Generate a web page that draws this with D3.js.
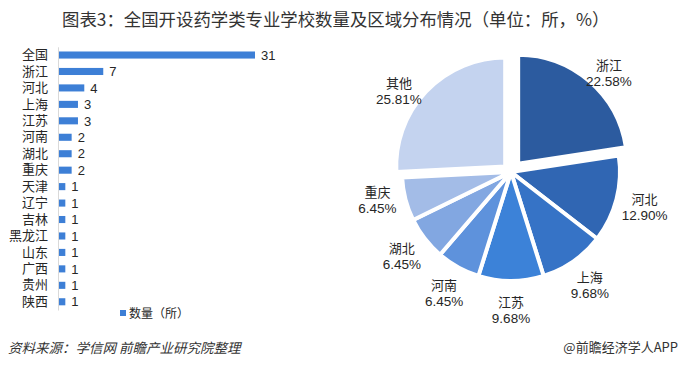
<!DOCTYPE html>
<html>
<head>
<meta charset="utf-8">
<script src="https://cdn.jsdelivr.net/npm/d3@7"></script>
<style>
  body { margin: 0; background: #fff; }
  text { font-family: "Noto Sans CJK SC", "Liberation Sans", sans-serif; }
</style>
</head>
<body>
<script>
var w = 680;
var h = 367;

// bar chart data
var provinces = ["全国", "浙江", "河北", "上海", "江苏", "河南", "湖北", "重庆",
                 "天津", "辽宁", "吉林", "黑龙江", "山东", "广西", "贵州", "陕西"];
var schoolCounts = [31, 7, 4, 3, 3, 2, 2, 2, 1, 1, 1, 1, 1, 1, 1, 1];

// pie chart data
var pieNames = ["浙江", "河北", "上海", "江苏", "河南", "湖北", "重庆", "其他"];
var pieValues = [7, 4, 3, 3, 2, 2, 2, 8];
var pieColors = ["#2c5b9f", "#3066b3", "#3673c6", "#3c82d8", "#5e92dc", "#82a7e1", "#a3bce7", "#c4d3ef"];

var barColor = "#3d7fd6";

var svg = d3.select("body")
    .append("svg")
    .attr("width", w)
    .attr("height", h);

// title
svg.append("text")
    .attr("x", 62)
    .attr("y", 26)
    .attr("font-size", "17.4px")
    .attr("fill", "#333")
    .text("图表3：全国开设药学类专业学校数量及区域分布情况（单位：所，%）");

//Bar chart scales
var xScale = d3.scaleLinear()
    .domain([0, 31])
    .range([59, 255]);

var yScale = d3.scaleBand()
    .domain(provinces)
    .range([46.8, 46.8 + 16 * 16.45])
    .paddingInner(0.57)
    .paddingOuter(0.285);

var yAxis = d3.axisLeft(yScale).tickSize(0).tickPadding(10);

var gy = svg.append("g")
    .attr("class", "y axis")
    .attr("transform", "translate(58,0)")
    .call(yAxis);
gy.select(".domain").attr("stroke", "#d9d9d9");
gy.selectAll("text")
    .attr("font-size", "13px")
    .attr("fill", "#262626")
    .style("font-family", "'Noto Sans CJK SC', sans-serif");

svg.append("g")
    .selectAll("rect")
    .data(schoolCounts)
    .enter()
    .append("rect")
    .attr("x", xScale(0))
    .attr("y", function(d, i) { return yScale(provinces[i]); })
    .attr("width", function(d) { return xScale(d) - xScale(0); })
    .attr("height", yScale.bandwidth())
    .attr("fill", barColor);

svg.append("g")
    .selectAll("text")
    .data(schoolCounts)
    .enter()
    .append("text")
    .attr("x", function(d) { return xScale(d) + 6; })
    .attr("y", function(d, i) { return yScale(provinces[i]) + yScale.bandwidth() / 2; })
    .attr("dy", "0.36em")
    .attr("font-size", "13px")
    .style("font-family", "'Liberation Sans', Arial, sans-serif")
    .attr("fill", "#262626")
    .text(function(d) { return d; });

// legend
svg.append("rect")
    .attr("x", 120).attr("y", 310)
    .attr("width", 6).attr("height", 6)
    .attr("fill", barColor);
svg.append("text")
    .attr("x", 129).attr("y", 317.5)
    .attr("font-size", "12px")
    .attr("fill", "#262626")
    .text("数量（所）");

//Pie chart
var cx = 511, cy = 172, radius = 109, labelR = 138;
var explode = { "浙江": 11, "其他": 8 };
var labelShift = { "浙江": [8, 6], "重庆": [0, -7], "其他": [-12, 14] };
var total = d3.sum(pieValues);

var pie = d3.pie().sort(null).value(function(d) { return d; });
var arc = d3.arc().innerRadius(0).outerRadius(radius);
var arcs = pie(pieValues);

var pg = svg.append("g").attr("transform", "translate(" + cx + "," + cy + ")");

pg.selectAll("path")
    .data(arcs)
    .enter()
    .append("path")
    .attr("d", arc)
    .attr("fill", function(d, i) { return pieColors[i]; })
    .attr("stroke", "#fff")
    .attr("stroke-width", 4)
    .attr("stroke-linejoin", "round")
    .attr("transform", function(d, i) {
        var e = explode[pieNames[i]] || 0;
        var a = (d.startAngle + d.endAngle) / 2;
        return "translate(" + (e * Math.sin(a)) + "," + (-e * Math.cos(a)) + ")";
    });

var labels = pg.selectAll("g.lbl")
    .data(arcs)
    .enter()
    .append("g")
    .attr("class", "lbl")
    .attr("transform", function(d, i) {
        var a = (d.startAngle + d.endAngle) / 2;
        var s = labelShift[pieNames[i]] || [0, 0];
        return "translate(" + (labelR * Math.sin(a) + s[0]) + "," + (-labelR * Math.cos(a) + s[1]) + ")";
    });

labels.append("text")
    .attr("text-anchor", "middle")
    .attr("y", -3)
    .attr("font-size", "13px")
    .attr("fill", "#262626")
    .text(function(d, i) { return pieNames[i]; });

labels.append("text")
    .attr("text-anchor", "middle")
    .attr("y", 13)
    .attr("font-size", "13.5px")
    .style("font-family", "'Liberation Sans', Arial, sans-serif")
    .attr("fill", "#262626")
    .text(function(d) { return (d.value / total * 100).toFixed(2) + "%"; });

// footer
svg.append("text")
    .attr("x", 8).attr("y", 352.5)
    .attr("font-size", "13.5px")
    .attr("font-style", "italic")
    .attr("fill", "#333")
    .text("资料来源：学信网 前瞻产业研究院整理");

svg.append("text")
    .attr("x", 678).attr("y", 351.5)
    .attr("text-anchor", "end")
    .attr("font-size", "13px")
    .attr("fill", "#333")
    .text("@前瞻经济学人APP");
</script>
</body>
</html>
